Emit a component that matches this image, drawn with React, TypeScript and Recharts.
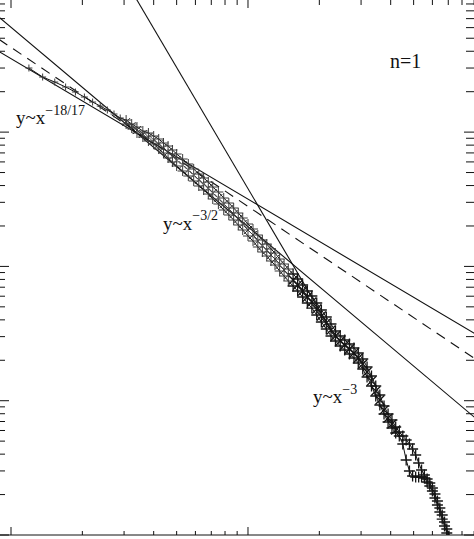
import React from "react";
import { ScatterChart, Scatter, XAxis, YAxis } from "recharts";

// x positions of the simulation points (shared by the curves)
const kValues = [11.9, 13.6, 15.3, 17.0, 18.7, 20.4, 22.1, 23.8, 25.5, 27.2,
  28.9, 30.6, 32.3, 34, 36, 38, 40, 42, 44, 46,
  48, 50, 53, 56, 59, 62, 65, 68, 71, 75,
  79, 83, 87, 91, 95, 100, 105, 110, 115, 120,
  125, 130, 136, 142, 148, 155, 162, 170, 178, 186,
  195, 204, 214, 224, 234, 245, 256, 268, 280, 292,
  305, 318, 332, 346, 360, 375, 390, 405, 420, 435,
  450, 465, 480, 495, 510, 525, 540, 555, 570, 585,
  600, 615, 630, 645, 660, 675, 690, 705];

const upperCurve = [0.3001, 0.2572, 0.2360, 0.2167, 0.1989, 0.1825, 0.1675, 0.1564, 0.1461, 0.1364,
  0.1274, 0.1230, 0.1149, 0.1091, 0.1019, 0.09847, 0.09354, 0.08884, 0.08294, 0.07879,
  0.07356, 0.06870, 0.06306, 0.05789, 0.05312, 0.04875, 0.04552, 0.04250, 0.03901, 0.03581,
  0.03231, 0.02966, 0.02722, 0.02498, 0.02293, 0.02069, 0.01899, 0.01713, 0.01573, 0.01468,
  0.01348, 0.01258, 0.01135, 0.01042, 0.009563, 0.008778, 0.008057, 0.007268, 0.006560, 0.006021,
  0.005340, 0.004736, 0.004200, 0.003725, 0.003304, 0.003032, 0.002831, 0.002644, 0.002469, 0.002266,
  0.002044, 0.001782, 0.001527, 0.001287, 0.001103, 0.0009131, 0.0007962, 0.0007182, 0.0006372, 0.0005848,
  0.0005461, 0.0005098, 0.0004760, 0.0004369, 0.0003941, 0.0003436, 0.0003048, 0.0002798, 0.0002612, 0.0002439,
  0.0002239, 0.0002020, 0.0001791, 0.0001589, 0.0001409, 0.0001250, 0.0001108, 0.0000983];

const middleCurve: (number | null)[] = [null, null, null, null, null, null, null, null, null, null,
  null, 0.1189, 0.1110, 0.1036, 0.09678, 0.09194, 0.08734, 0.08154, 0.07613, 0.07108,
  0.06637, 0.06198, 0.05689, 0.05222, 0.04793, 0.04398, 0.04107, 0.03835, 0.03520, 0.03231,
  0.02915, 0.02676, 0.02456, 0.02254, 0.02069, 0.01866, 0.01713, 0.01546, 0.01419, 0.01325,
  0.01216, 0.01135, 0.01024, 0.009402, 0.008630, 0.007920, 0.007268, 0.006560, 0.005918, 0.005431,
  0.004816, 0.004273, 0.003790, 0.003360, 0.003032, 0.002783, 0.002598, 0.002427, 0.002266, 0.002079,
  0.001876, 0.001636, 0.001402, 0.001181, 0.001012, 0.0008527, 0.0007433, 0.0006708, 0.0006051, null,
  null, null, null, null, null, null, null, null, null, null,
  null, null, null, null, null, null, null, null];

const lowerCurve: (number | null)[] = [null, null, null, null, null, null, null, null, null, null,
  null, 0.1149, 0.1073, 0.09847, 0.09194, 0.08584, 0.08154, 0.07484, 0.06989, 0.06415,
  0.05991, 0.05594, 0.05133, 0.04711, 0.04324, 0.03969, 0.03706, 0.03460, 0.03176, 0.02915,
  0.02630, 0.02414, 0.02215, 0.02034, 0.01866, 0.01684, 0.01546, 0.01395, 0.01280, 0.01195,
  0.01097, 0.01024, 0.009241, 0.008483, 0.007786, 0.007146, 0.006560, 0.005918, 0.005340, 0.004899,
  0.004346, 0.003855, 0.003419, 0.003032, 0.002783, 0.002555, 0.002385, 0.002227, 0.002079, 0.001909,
  0.001722, 0.001501, 0.001287, 0.001084, 0.0009290, 0.0007962, 0.0006940, 0.0006263, 0.0005749, 0.0005461,
  0.0004760, 0.0003618, 0.0002996, 0.0002750, 0.0002703, 0.0002703, 0.0002703, 0.0002657, 0.0002481, 0.0002316,
  0.0002126, 0.0001886, 0.0001672, 0.0001483, 0.0001315, 0.0001167, 0.0001035, 0.0000918];

// power-law guide lines (end points)
const fitX = [8.899, 907.6];
const fit1817 = [0.3989, 0.003155];
const fitDashed = [0.4906, 0.002053];
const fit32 = [0.7176, 0.0007474];
const steepX = [33.8, 222];
const fit3 = [0.98, 0.00347];

const xDomain = [8.899, 907.6];
const yDomain = [0.0001, 0.98];
const xTicks = [10, 20, 30, 40, 50, 60, 70, 80, 90, 100, 200, 300, 400, 500, 600, 700, 800, 900];
const yTicks = [0.0001, 0.0002, 0.0003, 0.0004, 0.0005, 0.0006, 0.0007, 0.0008, 0.0009,
  0.001, 0.002, 0.003, 0.004, 0.005, 0.006, 0.007, 0.008, 0.009,
  0.01, 0.02, 0.03, 0.04, 0.05, 0.06, 0.07, 0.08, 0.09,
  0.1, 0.2, 0.3, 0.4, 0.5, 0.6, 0.7, 0.8, 0.9];

const toPts = (xs: number[], ys: (number | null)[]) =>
  xs.map((x, i) => ({ x, y: ys[i] })).filter((p) => p.y != null) as { x: number; y: number }[];

const upperPts = toPts(kValues, upperCurve);
const middlePts = toPts(kValues, middleCurve);
const lowerPts = toPts(kValues, lowerCurve);
const line1817 = toPts(fitX, fit1817);
const lineDashed = toPts(fitX, fitDashed);
const line32 = toPts(fitX, fit32);
const line3 = toPts(steepX, fit3);

const isMajor = (v: number) => Math.abs(Math.log10(v) - Math.round(Math.log10(v))) < 1e-6;

const LEN: Record<string, [number, number]> = {
  bottom: [4, 8],
  top: [6, 9],
  left: [6, 10],
  right: [9, 11],
};

const TickMark = (props: any) => {
  const { x, y, payload, side } = props;
  if (x == null || y == null || !payload) return <g />;
  const L = LEN[side][isMajor(payload.value) ? 1 : 0];
  let d = "";
  if (side === "bottom") d = `M${x},${y}V${y - L}`;
  else if (side === "top") d = `M${x},${y}V${y + L}`;
  else if (side === "left") d = `M${x},${y}H${x + L}`;
  else d = `M${x},${y}H${x - L}`;
  return <path d={d} stroke="#111" strokeWidth={1} fill="none" />;
};

const markStyle = (xv: number) =>
  xv > 150 ? { stroke: "#151515", strokeWidth: 1.3 } : { stroke: "#3a3a3a", strokeWidth: 1 };

const Plus = (props: any) => {
  const { cx, cy, payload } = props;
  if (cx == null || cy == null) return <g />;
  const xv = payload ? payload.x : 0;
  const s = xv < 30 ? 3.5 : xv > 150 ? 5.5 : 5;
  return (
    <path
      d={`M${cx - s},${cy}H${cx + s}M${cx},${cy - s}V${cy + s}`}
      {...markStyle(xv)}
      fill="none"
    />
  );
};

const Cross = (props: any) => {
  const { cx, cy, payload } = props;
  if (cx == null || cy == null) return <g />;
  const xv = payload ? payload.x : 0;
  const s = xv > 150 ? 4.5 : 4;
  return (
    <path
      d={`M${cx - s},${cy - s}L${cx + s},${cy + s}M${cx - s},${cy + s}L${cx + s},${cy - s}`}
      {...markStyle(xv)}
      fill="none"
    />
  );
};

const NoDot = () => <g />;

const font = "'Liberation Serif', 'Times New Roman', serif";

export default function App() {
  return (
    <div
      style={{
        position: "fixed",
        left: 0,
        top: 0,
        width: 474,
        height: 539,
        overflow: "hidden",
        background: "#fff",
      }}
    >
      <div style={{ position: "absolute", left: -2, top: -2 }}>
        <ScatterChart width={478} height={542} margin={{ top: 0, right: 0, bottom: 0, left: 0 }}>
          <XAxis
            xAxisId="b"
            dataKey="x"
            type="number"
            scale="log"
            domain={xDomain}
            allowDataOverflow
            ticks={xTicks}
            interval={0}
            orientation="bottom"
            height={5}
            tickSize={0}
            tickMargin={0}
            tickLine={false}
            axisLine={{ stroke: "#111", strokeWidth: 1 }}
            tick={(p: any) => <TickMark {...p} side="bottom" />}
          />
          <XAxis
            xAxisId="t"
            dataKey="x"
            type="number"
            scale="log"
            domain={xDomain}
            allowDataOverflow
            ticks={xTicks}
            interval={0}
            orientation="top"
            height={1}
            tickSize={0}
            tickMargin={0}
            tickLine={false}
            axisLine={{ stroke: "#111", strokeWidth: 1 }}
            tick={(p: any) => <TickMark {...p} side="top" />}
          />
          <YAxis
            yAxisId="l"
            dataKey="y"
            type="number"
            scale="log"
            domain={yDomain}
            allowDataOverflow
            ticks={yTicks}
            interval={0}
            orientation="left"
            width={1}
            tickSize={0}
            tickMargin={0}
            tickLine={false}
            axisLine={{ stroke: "#111", strokeWidth: 1 }}
            tick={(p: any) => <TickMark {...p} side="left" />}
          />
          <YAxis
            yAxisId="r"
            dataKey="y"
            type="number"
            scale="log"
            domain={yDomain}
            allowDataOverflow
            ticks={yTicks}
            interval={0}
            orientation="right"
            width={1}
            tickSize={0}
            tickMargin={0}
            tickLine={false}
            axisLine={{ stroke: "#111", strokeWidth: 1 }}
            tick={(p: any) => <TickMark {...p} side="right" />}
          />
          <Scatter xAxisId="t" yAxisId="r" data={line1817} shape={NoDot} isAnimationActive={false} />
          <Scatter xAxisId="b" yAxisId="l" data={line1817} line={{ stroke: "#111", strokeWidth: 1.1 }} shape={NoDot} isAnimationActive={false} />
          <Scatter xAxisId="b" yAxisId="l" data={lineDashed} line={{ stroke: "#111", strokeWidth: 1.1, strokeDasharray: "10 7" }} shape={NoDot} isAnimationActive={false} />
          <Scatter xAxisId="b" yAxisId="l" data={line32} line={{ stroke: "#111", strokeWidth: 1.1 }} shape={NoDot} isAnimationActive={false} />
          <Scatter xAxisId="b" yAxisId="l" data={line3} line={{ stroke: "#111", strokeWidth: 1.1 }} shape={NoDot} isAnimationActive={false} />
          <Scatter xAxisId="b" yAxisId="l" data={upperPts} line={{ stroke: "#111", strokeWidth: 1 }} shape={Plus} isAnimationActive={false} />
          <Scatter xAxisId="b" yAxisId="l" data={middlePts} shape={Cross} isAnimationActive={false} />
          <Scatter xAxisId="b" yAxisId="l" data={lowerPts} line={{ stroke: "#111", strokeWidth: 1 }} shape={Plus} isAnimationActive={false} />
        </ScatterChart>
      </div>
      <svg
        width={474}
        height={539}
        style={{ position: "absolute", left: 0, top: 0, pointerEvents: "none" }}
      >
        <text x={16} y={124} fontFamily={font} fontSize={19} fill="#111">
          y~x<tspan dy={-9} fontSize={14}>−18/17</tspan>
        </text>
        <text x={163} y={230} fontFamily={font} fontSize={19} fill="#111">
          y~x<tspan dy={-10} fontSize={14}>−3/2</tspan>
        </text>
        <text x={313} y={403} fontFamily={font} fontSize={19} fill="#111">
          y~x<tspan dy={-9} fontSize={14}>−3</tspan>
        </text>
        <text x={390} y={68} fontFamily={font} fontSize={20} fill="#111">
          n=1
        </text>
      </svg>
    </div>
  );
}
